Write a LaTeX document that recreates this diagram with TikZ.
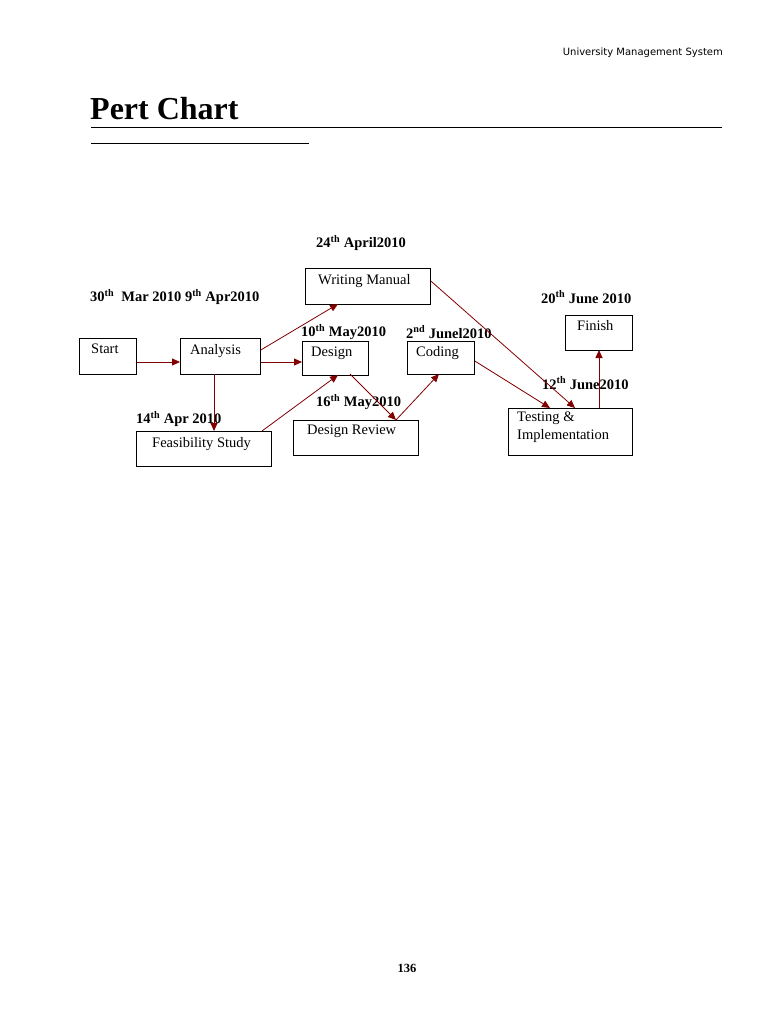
\documentclass[tikz,border=0pt]{standalone}
\usepackage{fontspec}
\setmainfont{Liberation Serif}
\newfontfamily\hdrfont{DejaVu Sans}
\usetikzlibrary{arrows.meta}
\definecolor{arr}{RGB}{128,0,0}
\begin{document}
\begin{tikzpicture}[x=1pt,y=-1pt,
  box/.style={draw,thick,anchor=north west,inner sep=0pt},
  txt/.style={anchor=north west,inner sep=0pt,font=\fontsize{14.5}{16}\selectfont},
  lbl/.style={anchor=west,inner sep=0pt,font=\bfseries\fontsize{14.5}{16}\selectfont},
  con/.style={arr,thick,-{Triangle[length=8pt,width=7pt]}}]
\useasboundingbox (0,0) rectangle (768,1024);
\node[anchor=east,inner sep=0pt,font=\hdrfont\fontsize{10}{11}\selectfont] (hdr) at (723,53) {University Management System};
\node[anchor=west,inner sep=0pt,font=\bfseries\fontsize{32}{34}\selectfont] (title) at (90,109) {Pert Chart};
\draw (91,127) -- (722,127);
\draw (91,143) -- (309,143);
\node[inner sep=0pt,font=\bfseries\fontsize{12.5}{14}\selectfont] (pg) at (407,968) {136};
% boxes
\node[box,minimum width=57,minimum height=36] (start) at (79,338) {};
\node[txt] at (91,344) {Start};
\node[box,minimum width=80,minimum height=36] (an) at (180,338) {};
\node[txt] at (190,344) {Analysis};
\node[box,minimum width=125,minimum height=36] (wm) at (305,268) {};
\node[txt] at (318,274) {Writing Manual};
\node[box,minimum width=66,minimum height=34] (de) at (302,341) {};
\node[txt] at (311,347) {Design};
\node[box,minimum width=67,minimum height=33] (co) at (407,341) {};
\node[txt] at (416,346) {Coding};
\node[box,minimum width=125,minimum height=35] (dr) at (293,420) {};
\node[txt] at (307,425) {Design Review};
\node[box,minimum width=135,minimum height=35] (fs) at (136,431) {};
\node[txt] at (152,437) {Feasibility Study};
\node[box,minimum width=67,minimum height=35] (fi) at (565,315) {};
\node[txt] at (577,320) {Finish};
\node[box,minimum width=124,minimum height=47] (te) at (508,408) {};
\node[txt,align=left,font=\fontsize{14.5}{18}\selectfont] at (517,412) {Testing \&\\Implementation};
% labels
\node[lbl] (l1) at (90,297) {30\textsuperscript{th}\ \ Mar 2010 9\textsuperscript{th} Apr2010};
\node[lbl] (l2) at (316,243) {24\textsuperscript{th} April2010};
\node[lbl] (l3) at (301,332) {10\textsuperscript{th} May2010};
\node[lbl] (l4) at (406,332) {2\textsuperscript{nd} Junel2010};
\node[lbl] (l5) at (316,402) {16\textsuperscript{th} May2010};
\node[lbl] (l6) at (136,419) {14\textsuperscript{th} Apr 2010};
\node[lbl] (l7) at (541,297) {20\textsuperscript{th} June 2010};
\node[lbl] (l8) at (542,383) {12\textsuperscript{th} June2010};
% connectors
\draw[con] (start.east |- 0,362) -- (an.west |- 0,362);
\draw[con] (an.east |- 0,350) -- (338,304);
\draw[con] (an.east |- 0,362) -- (de.west |- 0,362);
\draw[con] (214,374) -- (214,431);
\draw[con] (262,431) -- (338,375);
\draw[con] (350,374) -- (396,420);
\draw[con] (396,420) -- (439,374);
\draw[con] (co.east |- 0,361) -- (550,408);
\draw[con] (wm.east |- 0,281) -- (575,408);
\draw[con] (599,408) -- (599,350);
\end{tikzpicture}
\end{document}
